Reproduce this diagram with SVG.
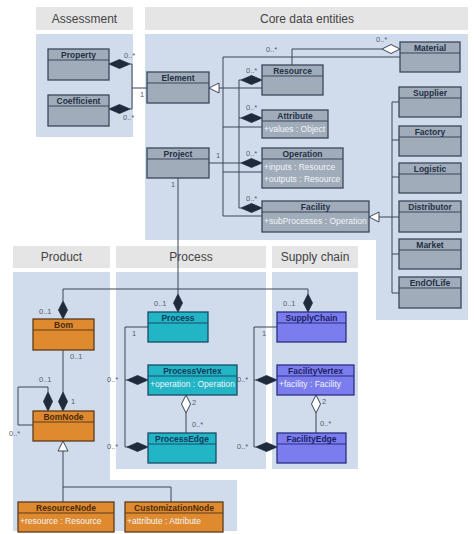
<svg xmlns="http://www.w3.org/2000/svg" width="474" height="534" viewBox="0 0 474 534">
<style>
.pb{fill:#d0dcec}
.hb{fill:#e5e5e5}
.ht{font-family:"Liberation Sans",Arial,sans-serif;font-size:12px;fill:#444;text-anchor:middle}
.g rect{fill:#a1acbb;stroke:#3b475a;stroke-width:1.3}
.o rect{fill:#df8a2f;stroke:#5c3b1c;stroke-width:1.3}
.c rect{fill:#22b5c6;stroke:#1a4b66;stroke-width:1.3}
.b rect{fill:#7b7ced;stroke:#2b2f80;stroke-width:1.3}
.g line{stroke:#3b475a;stroke-width:1.2}
.o line{stroke:#5c3b1c;stroke-width:1.2}
.c line{stroke:#1a4b66;stroke-width:1.2}
.b line{stroke:#2b2f80;stroke-width:1.2}
.n{font-family:"Liberation Sans",Arial,sans-serif;font-size:8.5px;font-weight:bold;text-anchor:middle;fill:#243044}
.o .n{fill:#4a2a0e}
.c .n{fill:#123a5a}
.b .n{fill:#1c1f66}
.a{font-family:"Liberation Sans",Arial,sans-serif;font-size:8.5px;fill:#f2f4f8}
.m{font-family:"Liberation Sans",Arial,sans-serif;font-size:7.5px;fill:#555e6a}
.ln{stroke:#3b4658;stroke-width:1;fill:none}
.fd{fill:#1f2a3c;stroke:#1f2a3c;stroke-width:0.8}
.hd{fill:#ffffff;stroke:#3b4658;stroke-width:1}
</style>

<g id="panels">
<rect class="hb" x="36" y="7" width="97" height="23"/>
<rect class="pb" x="36" y="34" width="97" height="103"/>
<text class="ht" x="84.5" y="23">Assessment</text>
<rect class="hb" x="145" y="7" width="323" height="23"/>
<path class="pb" d="M145,34 H468 V320 H376 V240 H145 Z"/>
<text class="ht" x="307" y="23">Core data entities</text>
<rect class="hb" x="13" y="246" width="97" height="22"/>
<path class="pb" d="M13,272 H110 V480 H237 V531 H13 Z"/>
<text class="ht" x="61.5" y="261">Product</text>
<rect class="hb" x="116" y="246" width="150" height="22"/>
<rect class="pb" x="116" y="272" width="150" height="197"/>
<text class="ht" x="191" y="261">Process</text>
<rect class="hb" x="272" y="246" width="86" height="22"/>
<rect class="pb" x="272" y="272" width="86" height="197"/>
<text class="ht" x="315" y="261">Supply chain</text>
</g>

<g id="connectors">
<!-- Assessment compositions -->
<path class="ln" d="M130,64 H132 V109 H130 M132,88 H147"/>
<polygon class="fd" points="109,64 119.5,59.5 130,64 119.5,68.5"/>
<polygon class="fd" points="109,109 119.5,104.5 130,109 119.5,113.5"/>
<!-- Element generalization -->
<path class="ln" d="M219,88 H262 M223,57 V216 M223,57 H400 M223,127 H262 M223,172 H262 M223,216 H262"/>
<polygon class="hd" points="209,88 219,83 219,93"/>
<!-- Project compositions -->
<path class="ln" d="M209,163 H241 M239,80 V208 M239,80 H241 M239,118 H241 M239,208 H241"/>
<polygon class="fd" points="241,80 251.5,75.5 262,80 251.5,84.5"/>
<polygon class="fd" points="241,118 251.5,113.5 262,118 251.5,122.5"/>
<polygon class="fd" points="241,163 251.5,158.5 262,163 251.5,167.5"/>
<polygon class="fd" points="241,208 251.5,203.5 262,208 251.5,212.5"/>
<!-- Material aggregation -->
<path class="ln" d="M292,65 V49 H382"/>
<polygon class="hd" points="382,49 391,44.5 400,49 391,53.5"/>
<!-- Facility generalization -->
<path class="ln" d="M379,217 H392 M392,102 V293 M392,102 H399 M392,140 H399 M392,177 H399 M392,217 H399 M392,254 H399 M392,293 H399"/>
<polygon class="hd" points="369,217 379,212 379,222"/>
<!-- Project to Bom / Process / SupplyChain -->
<path class="ln" d="M178,178 V294 M63,301 V289 H308 V294"/>
<polygon class="fd" points="178,294 182.5,303 178,312 173.5,303"/>
<polygon class="fd" points="63,301 67.5,310 63,319 58.5,310"/>
<polygon class="fd" points="308,294 312.5,303 308,312 303.5,303"/>
<!-- Bom to BomNode -->
<path class="ln" d="M63,350 V392 M48,392 V387 H18 V425 H33"/>
<polygon class="fd" points="63,392 67.5,401.5 63,411 58.5,401.5"/>
<polygon class="fd" points="48,392 52.5,401.5 48,411 43.5,401.5"/>
<!-- BomNode generalization -->
<path class="ln" d="M63,451 V502 M63,487 H171 V502"/>
<polygon class="hd" points="63,441 68,451 58,451"/>
<!-- Process compositions -->
<path class="ln" d="M148,327 H125 V447 H127 M125,380 H127 M186,413 V433"/>
<polygon class="fd" points="127,380 137.5,375.5 148,380 137.5,384.5"/>
<polygon class="fd" points="127,447 137.5,442.5 148,447 137.5,451.5"/>
<polygon class="hd" points="186,395 190.5,404 186,413 181.5,404"/>
<!-- Supply chain compositions -->
<path class="ln" d="M277,327 H254 V447 H256 M254,380 H256 M316,413 V433"/>
<polygon class="fd" points="256,380 266.5,375.5 277,380 266.5,384.5"/>
<polygon class="fd" points="256,447 266.5,442.5 277,447 266.5,451.5"/>
<polygon class="hd" points="316,395 320.5,404 316,413 311.5,404"/>
</g>

<g id="labels">
<text class="m" x="124" y="58">0..*</text>
<text class="m" x="123" y="120">0..*</text>
<text class="m" x="140" y="97">1</text>
<text class="m" x="216" y="158">1</text>
<text class="m" x="246" y="73">0..*</text>
<text class="m" x="246" y="110">0..*</text>
<text class="m" x="246" y="156">0..*</text>
<text class="m" x="246" y="201">0..*</text>
<text class="m" x="266" y="52">0..*</text>
<text class="m" x="376" y="42">0..*</text>
<text class="m" x="171" y="187">1</text>
<text class="m" x="154" y="306">0..1</text>
<text class="m" x="39" y="314">0..1</text>
<text class="m" x="283" y="306">0..1</text>
<text class="m" x="70" y="359">0..1</text>
<text class="m" x="39" y="382">0..1</text>
<text class="m" x="71" y="404">1</text>
<text class="m" x="9" y="436">0..*</text>
<text class="m" x="132" y="336">1</text>
<text class="m" x="107" y="382">0..*</text>
<text class="m" x="107" y="449">0..*</text>
<text class="m" x="192" y="405">2</text>
<text class="m" x="192" y="427">0..*</text>
<text class="m" x="262" y="336">1</text>
<text class="m" x="237" y="382">0..*</text>
<text class="m" x="237" y="449">0..*</text>
<text class="m" x="322" y="404">2</text>
<text class="m" x="320" y="426">0..*</text>
</g>

<g id="Property" class="g"><rect x="48" y="49" width="61" height="31"/><line x1="48" y1="60" x2="109" y2="60"/><text class="n" x="78.5" y="57.5">Property</text></g>
<g id="Coefficient" class="g"><rect x="48" y="95" width="61" height="31"/><line x1="48" y1="106" x2="109" y2="106"/><text class="n" x="78.5" y="103.5">Coefficient</text></g>
<g id="Element" class="g"><rect x="147" y="72" width="62" height="31"/><line x1="147" y1="83" x2="209" y2="83"/><text class="n" x="178" y="80.5">Element</text></g>
<g id="Project" class="g"><rect x="147" y="148" width="62" height="30"/><line x1="147" y1="159" x2="209" y2="159"/><text class="n" x="178" y="156.5">Project</text></g>
<g id="Resource" class="g"><rect x="262" y="65" width="61" height="30"/><line x1="262" y1="76" x2="323" y2="76"/><text class="n" x="292.5" y="73.5">Resource</text></g>
<g id="Attribute" class="g"><rect x="262" y="110" width="66" height="28"/><line x1="262" y1="121" x2="328" y2="121"/><text class="n" x="295" y="118.5">Attribute</text><text class="a" x="264" y="132">+values : Object</text></g>
<g id="Operation" class="g"><rect x="262" y="148" width="81" height="40"/><line x1="262" y1="159" x2="343" y2="159"/><text class="n" x="302.5" y="156.5">Operation</text><text class="a" x="264" y="170">+inputs : Resource</text><text class="a" x="264" y="182">+outputs : Resource</text></g>
<g id="Facility" class="g"><rect x="262" y="201" width="107" height="31"/><line x1="262" y1="212" x2="369" y2="212"/><text class="n" x="315.5" y="209.5">Facility</text><text class="a" x="264" y="224">+subProcesses : Operation</text></g>
<g id="Material" class="g"><rect x="400" y="42" width="60" height="30"/><line x1="400" y1="53" x2="460" y2="53"/><text class="n" x="430" y="50.5">Material</text></g>
<g id="Supplier" class="g"><rect x="399" y="87" width="62" height="30"/><line x1="399" y1="98" x2="461" y2="98"/><text class="n" x="430" y="95.5">Supplier</text></g>
<g id="Factory" class="g"><rect x="399" y="126" width="62" height="30"/><line x1="399" y1="137" x2="461" y2="137"/><text class="n" x="430" y="134.5">Factory</text></g>
<g id="Logistic" class="g"><rect x="399" y="163" width="62" height="30"/><line x1="399" y1="174" x2="461" y2="174"/><text class="n" x="430" y="171.5">Logistic</text></g>
<g id="Distributor" class="g"><rect x="399" y="201" width="62" height="31"/><line x1="399" y1="212" x2="461" y2="212"/><text class="n" x="430" y="209.5">Distributor</text></g>
<g id="Market" class="g"><rect x="399" y="239" width="62" height="30"/><line x1="399" y1="250" x2="461" y2="250"/><text class="n" x="430" y="247.5">Market</text></g>
<g id="EndOfLife" class="g"><rect x="399" y="277" width="62" height="31"/><line x1="399" y1="288" x2="461" y2="288"/><text class="n" x="430" y="285.5">EndOfLife</text></g>

<g id="Bom" class="o"><rect x="33" y="319" width="61" height="31"/><line x1="33" y1="330" x2="94" y2="330"/><text class="n" x="63.5" y="327.5">Bom</text></g>
<g id="BomNode" class="o"><rect x="33" y="411" width="61" height="30"/><line x1="33" y1="422" x2="94" y2="422"/><text class="n" x="63.5" y="419.5">BomNode</text></g>
<g id="ResourceNode" class="o"><rect x="18" y="502" width="96" height="30"/><line x1="18" y1="513" x2="114" y2="513"/><text class="n" x="66" y="510.5">ResourceNode</text><text class="a" x="20" y="524">+resource : Resource</text></g>
<g id="CustomizationNode" class="o"><rect x="125" y="502" width="98" height="30"/><line x1="125" y1="513" x2="223" y2="513"/><text class="n" x="174" y="510.5">CustomizationNode</text><text class="a" x="127" y="524">+attribute : Attribute</text></g>

<g id="Process" class="c"><rect x="148" y="312" width="60" height="30"/><line x1="148" y1="323" x2="208" y2="323"/><text class="n" x="178" y="320.5">Process</text></g>
<g id="ProcessVertex" class="c"><rect x="148" y="365" width="89" height="30"/><line x1="148" y1="376" x2="237" y2="376"/><text class="n" x="192.5" y="373.5">ProcessVertex</text><text class="a" x="150" y="387">+operation : Operation</text></g>
<g id="ProcessEdge" class="c"><rect x="148" y="433" width="68" height="30"/><line x1="148" y1="444" x2="216" y2="444"/><text class="n" x="182" y="441.5">ProcessEdge</text></g>

<g id="SupplyChain" class="b"><rect x="277" y="312" width="69" height="30"/><line x1="277" y1="323" x2="346" y2="323"/><text class="n" x="311.5" y="320.5">SupplyChain</text></g>
<g id="FacilityVertex" class="b"><rect x="277" y="365" width="77" height="30"/><line x1="277" y1="376" x2="354" y2="376"/><text class="n" x="315.5" y="373.5">FacilityVertex</text><text class="a" x="279" y="387">+facility : Facility</text></g>
<g id="FacilityEdge" class="b"><rect x="277" y="433" width="69" height="30"/><line x1="277" y1="444" x2="346" y2="444"/><text class="n" x="311.5" y="441.5">FacilityEdge</text></g>
</svg>
